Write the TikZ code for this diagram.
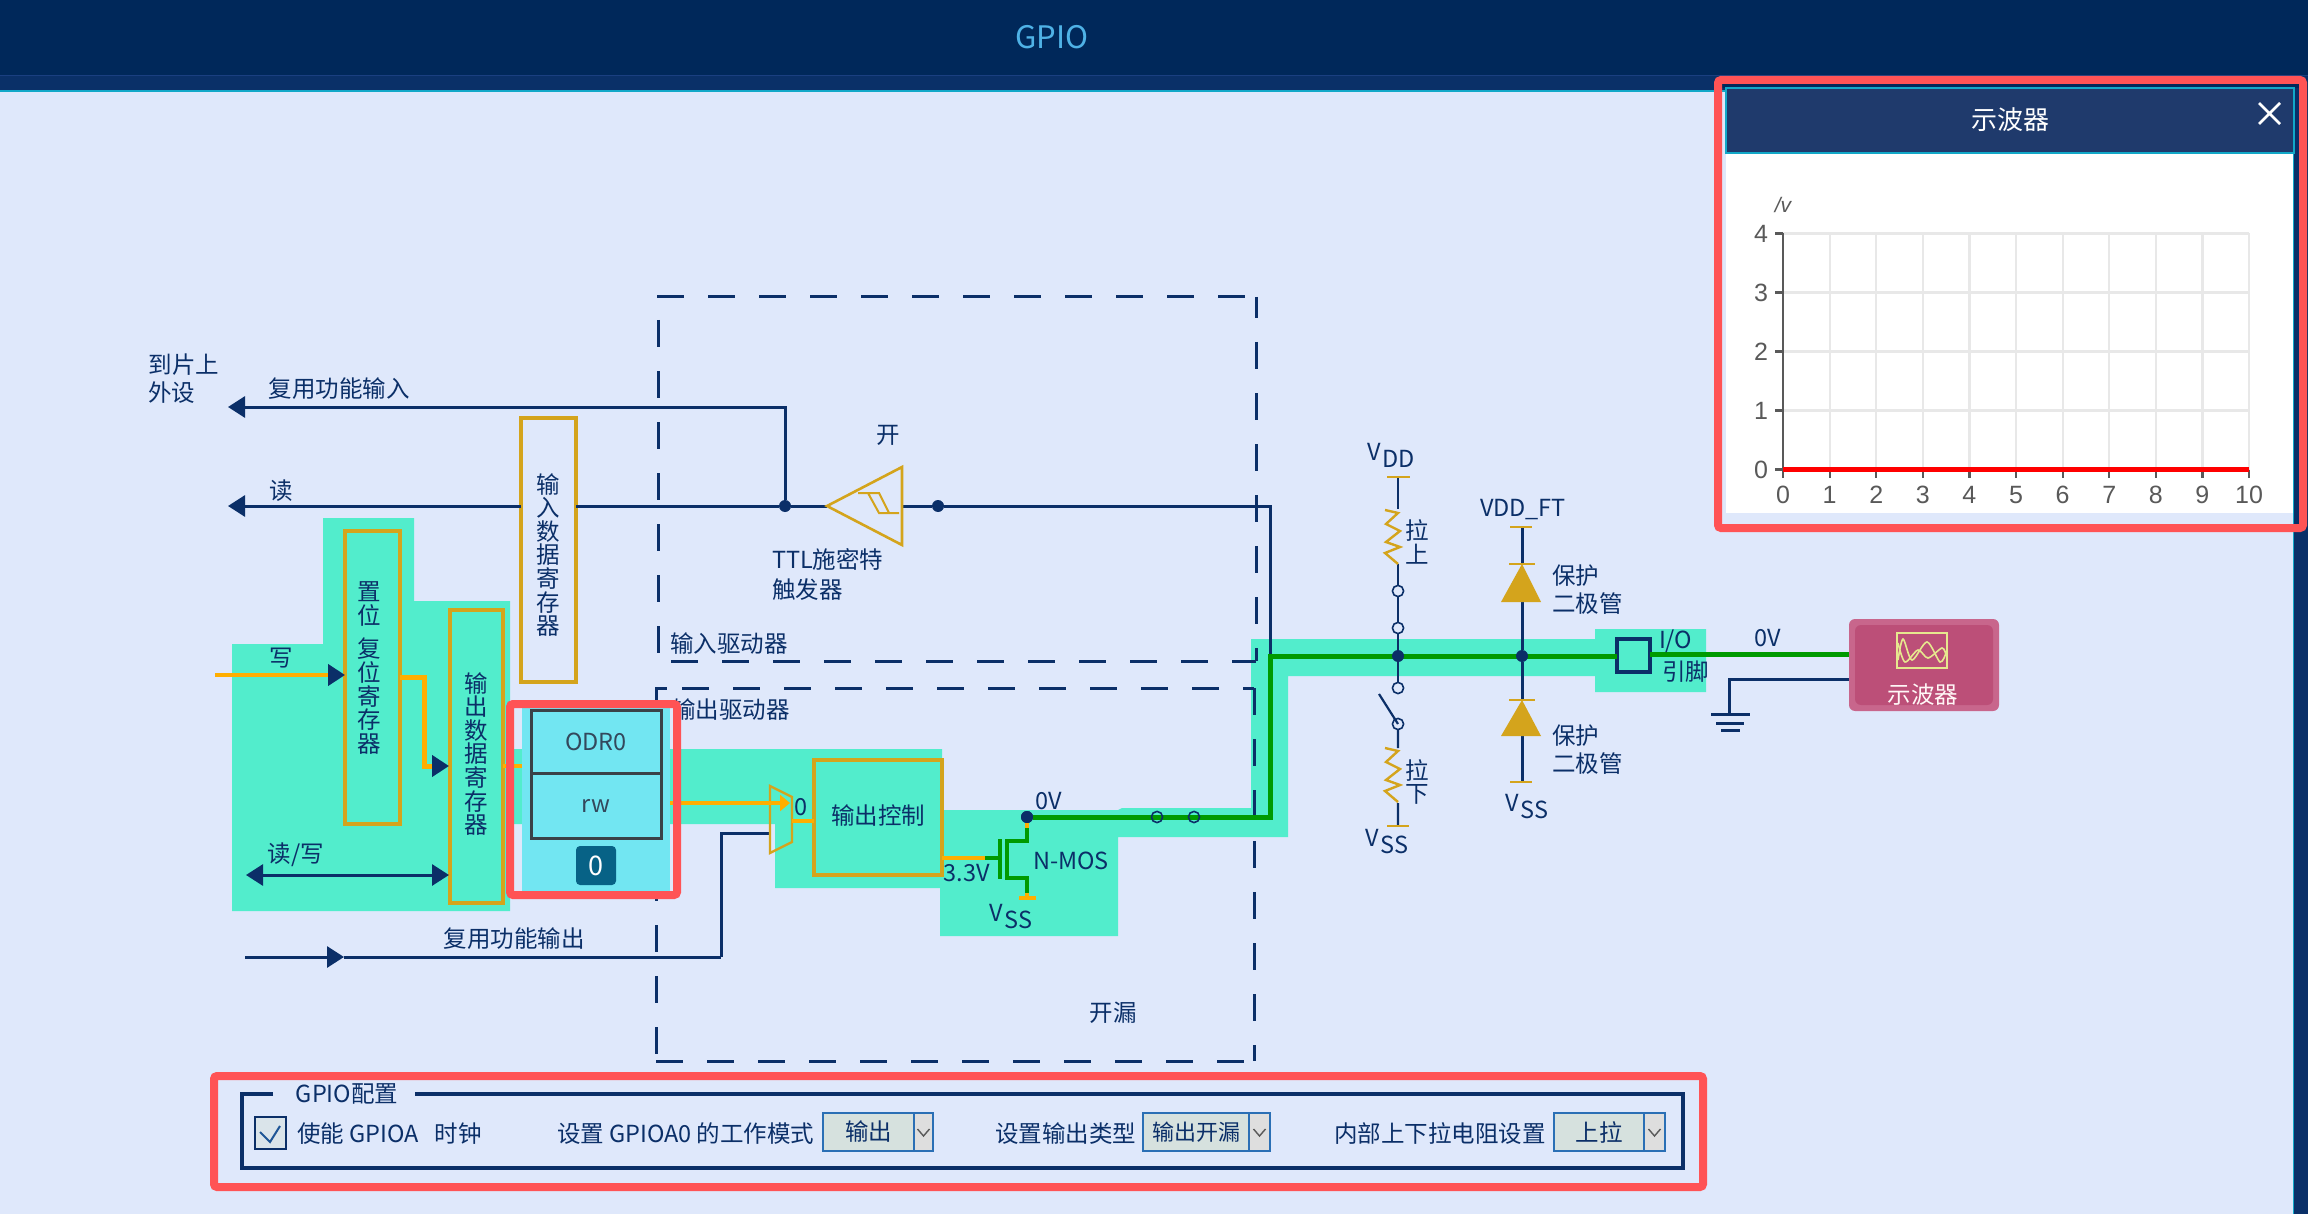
\documentclass[tikz,border=0pt]{standalone}
\usepackage{fontspec}
\setmainfont{Noto Sans CJK SC}
\newfontfamily\chartfont{Liberation Sans}
\usetikzlibrary{arrows.meta}
\definecolor{bgc}{HTML}{DFE8FB}
\definecolor{hdr}{HTML}{00285A}
\definecolor{hdrb}{HTML}{0A3068}
\definecolor{hdrl}{HTML}{1A3F80}
\definecolor{navy}{HTML}{0B2F68}
\definecolor{teal}{HTML}{52EDCC}
\definecolor{gold}{HTML}{D4A41C}
\definecolor{orng}{HTML}{FFAE00}
\definecolor{grn}{HTML}{009A00}
\definecolor{cyn}{HTML}{72E6F2}
\definecolor{redf}{HTML}{FF5355}
\definecolor{winh}{HTML}{1F3A6C}
\definecolor{scope}{HTML}{BC4F78}
\definecolor{scopeb}{HTML}{C8668C}
\definecolor{comb}{HTML}{D6E1DE}
\definecolor{combb}{HTML}{2A6FB5}
\definecolor{titlec}{HTML}{4FB2E6}
\definecolor{edge}{HTML}{12A8C8}
\definecolor{icoc}{HTML}{E6E88E}
\definecolor{odrt}{HTML}{33485C}
\definecolor{odrl}{HTML}{3A4248}
\newcommand{\rnode}[6]{\node[#6,minimum width={(#4-#2)*0.5pt},minimum height={(#5-#3)*0.5pt},inner sep=0pt,outer sep=0pt] (#1) at ({(#2+#4)/2},{(#3+#5)/2}) {};}
\newcommand{\vsub}[1]{V\hspace{0.5pt}\raisebox{-3.5pt}{#1}}
\tikzset{
 txt/.style={font=\fontsize{11.75pt}{11.8pt}\selectfont,text=navy,inner sep=0pt,outer sep=0pt,align=left},
 txtl/.style={txt,anchor=west},
 dtxt/.style={txt,text=odrt},
 wire/.style={draw=navy,line width=1.5pt},
 thin wire/.style={draw=navy,line width=1.1pt},
 owire/.style={draw=orng,line width=2.2pt},
 gwire/.style={draw=grn,line width=2.5pt},
 tipn/.style={-{Triangle[length=8.5pt,width=10.5pt,color=navy]}},
 regbox/.style={draw=gold,line width=1.7pt,fill=teal},
 odrbox/.style={draw=odrl,line width=1.5pt,fill=cyn},
 dot/.style={circle,fill=navy,minimum size=6pt,inner sep=0pt,outer sep=0pt},
 hole/.style={circle,draw=navy,line width=0.8pt,minimum size=5.6pt,inner sep=0pt,outer sep=0pt},
 bar/.style={draw=gold,line width=1.4pt},
 res/.style={draw=gold,line width=1.2pt,line join=miter},
 dash box/.style={draw=navy,line width=1.5pt,dash pattern=on 13.5pt off 12pt},
 combo/.style={draw=combb,line width=0.9pt,fill=comb},
 comboa/.style={draw=combb,line width=0.9pt,fill=black!13},
 frame/.style={draw=redf,line width=4pt,rounded corners=1.5pt},
 tick/.style={draw=black!65,line width=1.1pt},
 gridl/.style={draw=black!9,line width=1.1pt},
 ctxt/.style={font=\chartfont\fontsize{12.5pt}{13pt}\selectfont,text=black!65,inner sep=0pt,outer sep=0pt},
}
\begin{document}
\begin{tikzpicture}[x=0.5pt,y=-0.5pt]
\useasboundingbox (0,0) rectangle (2308,1214);
\fill[bgc] (0,0) rectangle (2308,1214);
% header
\fill[hdr] (0,0) rectangle (2308,75);
\fill[hdrb] (0,75) rectangle (2308,90);
\fill[hdrl] (0,75) rectangle (2308,76.5);
\fill[edge] (0,90) rectangle (2308,92);
\fill[hdrb] (2294,76) rectangle (2308,1214);
\fill[edge] (2292.5,91) rectangle (2294,1214);
\node[txt,font=\fontsize{15.5pt}{16pt}\selectfont,text=titlec] (title) at (1052,37) {GPIO};
% teal backgrounds
\fill[teal] (232,644) -- (323,644) -- (323,518) -- (414,518) -- (414,601) -- (510,601) -- (510,749) -- (522,749) -- (522,824) -- (510,824) -- (510,911) -- (232,911) -- cycle;
\fill[teal] (670,749) -- (942,749) -- (942,811) -- (940,811) -- (940,810) -- (1118,810) -- (1122,808) -- (1251,808) -- (1251,639) -- (1595,639) -- (1595,629) -- (1706,629) -- (1706,692) -- (1595,692) -- (1595,676) -- (1288,676) -- (1288,837) -- (1118,837) -- (1118,936) -- (940,936) -- (940,888) -- (775,888) -- (775,824) -- (670,824) -- cycle;
% dashed driver boxes
\coordinate (ia) at (657,297); \coordinate (ib) at (1256,297);
\coordinate (ic) at (658,320); \coordinate (id) at (658,660);
\coordinate (ie) at (671,661); \coordinate (if) at (1256,661);
\draw[dash box] (ia) -- (ib);
\draw[dash box] (ic) -- (id);
\draw[dash box] (ie) -- (if);
\draw[dash box,dash phase=3pt] (ib) -- (if);
\coordinate (oa) at (656,700); \coordinate (ob) at (656,688); \coordinate (oc) at (1254,688);
\coordinate (od) at (656,1061); \coordinate (oe) at (1254,1061);
\draw[draw=navy,line width=1.5pt] (656,700) -- (ob) -- (667,688);
\draw[dash box] (682,688) -- (oc);
\draw[dash box] (656,721) -- (od);
\draw[dash box] (oc) -- (oe);
\draw[dash box] (od) -- (oe);
\node[txtl] (lbi) at (670,644) {输入驱动器};
\node[txtl] (lbo) at (672,710) {输出驱动器};
\node[txt] (lbk) at (1113,1013) {开漏};
% set/reset and output register
\rnode{setreg}{345}{531}{400}{824}{regbox}
\rnode{outreg}{450}{610}{503}{903}{regbox}
\rnode{inreg}{521}{418}{576}{682}{draw=gold,line width=1.7pt,fill=bgc}
\node[txt,align=center] (tset) at (369,668) {置\\位\\[5pt]复\\位\\寄\\存\\器};
\node[txt,align=center] (tout) at (476,754) {输\\出\\数\\据\\寄\\存\\器};
% input lines
\coordinate (rdtip) at (228,506); \coordinate (aftip) at (228,407);
\coordinate (afc) at (785,407);
\node[dot] (j1) at (785,506) {};
\node[dot] (j2) at (938,506) {};
\coordinate (st1) at (827,506); \coordinate (st2) at (902,467); \coordinate (st3) at (902,545); \coordinate (st4) at (902,506);
\coordinate (rc) at (1270,506); \coordinate (j0) at (1270,656);
\draw[wire,tipn] (j1) -- (afc) -- (aftip);
\draw[wire,tipn] (inreg.west |- rdtip) -- (rdtip);
\draw[wire] (inreg.east |- rdtip) -- (j1) -- (st1);
\draw[wire] (st4) -- (j2) -- (rc) -- (j0);
\draw[draw=gold,line width=1.3pt,fill=bgc,line join=miter] (st1) -- (st2) -- (st3) -- cycle;
\draw[draw=gold,line width=1pt] (858,493) -- (879,493) -- (889,513) -- (879,513) -- (868,493) (879,513) -- (899,513);
\node[txt] (t1) at (184,365) {到片上};
\node[txtl] (t2) at (148,393) {外设};
\node[txt] (t3) at (339,389) {复用功能输入};
\node[txt] (t4) at (281,491) {读};
\node[txt] (t5) at (888,435) {开};
\node[txtl] (t6) at (772,559) {TTL施密特};
\node[txtl] (t7) at (772,590) {触发器};
\node[txt,align=center] (tin) at (548,555) {输\\入\\数\\据\\寄\\存\\器};
% write lines
\coordinate (w0) at (215,675);
\coordinate (sr1) at (400,677); \coordinate (sr2) at (424,677); \coordinate (sr3) at (424,766); \coordinate (sr4) at (449,766);
\draw[owire,tipn] (w0) -- (setreg.west |- w0);
\draw[draw=orng,line width=2.5pt,tipn] (sr1) -- (sr2) -- (sr3) -- (sr4);
\draw[owire] (outreg.east |- sr4) -- (522,766);
\coordinate (rw0) at (246,875); \coordinate (rw1) at (449,875);
\draw[wire,{Triangle[length=8.5pt,width=10.5pt,color=navy]}-{Triangle[length=8.5pt,width=10.5pt,color=navy]}] (rw0) -- (rw1);
\node[txt] (t8) at (281,658) {写};
\node[txt] (t9) at (296,855) {读/写};
% MUX + output control
\coordinate (m1) at (770,786); \coordinate (m2) at (792,797); \coordinate (m3) at (792,842); \coordinate (m4) at (770,853);
\coordinate (af1) at (245,957); \coordinate (af2) at (721,957); \coordinate (af3) at (721,833); \coordinate (af4) at (770,833); \coordinate (af5) at (344,957);
\draw[wire] (af2) -- (af3) -- (af4);
\draw[wire,tipn] (af1) -- (af5);
\draw[wire] (af5) -- (af2);
\rnode{ctrl}{814}{760}{942}{875}{regbox}
\node[txt] (tctrl) at (878,816) {输出控制};
\draw[draw=gold,line width=1.2pt] (m1) -- (m2) -- (m3) -- (m4) -- cycle;
\node[txt] (t0m) at (801,807) {0};
\draw[owire] (792,821) -- (ctrl.west |- 792,821);
\node[txt] (t10) at (514,939) {复用功能输出};
% ODR panel
\rnode{panel}{522}{708}{670}{891}{fill=cyn}
\rnode{odr}{531}{710}{661}{773}{odrbox}
\rnode{rw}{531}{773}{661}{838}{odrbox}
\node[dtxt] (todr) at (odr.center) {ODR0};
\node[dtxt] (trw) at (rw.center) {rw};
\rnode{zbtn}{576}{846}{616}{885}{fill=navy!70!cyan!90!black,rounded corners=2pt}
\node[txt,text=white,font=\fontsize{13.5pt}{14pt}\selectfont] (tz) at (zbtn.center) {0};
\coordinate (oa1) at (670,803); \coordinate (oa2) at (790,803);
\draw[owire,-{Triangle[length=5pt,width=8pt,color=orng]}] (oa1) -- (oa2);
\draw[frame] (510,704) rectangle (677,895);
% MOSFET
\coordinate (gt0) at (942,858); \coordinate (gt1) at (985,858); \coordinate (gt2) at (1000,858);
\draw[owire] (gt0) -- (gt1);
\draw[draw=grn,line width=2pt] (gt1) -- (gt2);
\draw[draw=grn,line width=2.3pt] (1000,839) -- (1000,879);
\node[dot] (dr) at (1027,817) {};
\coordinate (d1) at (1027,828); \coordinate (s1) at (1027,893); \coordinate (s2) at (1027,898);
\draw[owire] (dr) -- (d1);
\draw[draw=grn,line width=2.3pt,line join=miter] (d1) -- (1027,841) -- (1007,841) -- (1007,878) -- (1027,878) -- (s1);
\draw[owire] (s1) -- (s2);
\draw[draw=orng,line width=2pt] (1019,898) -- (1036,898);
\node[txt] (t33) at (967,873) {3.3V};
\node[txt] (tnm) at (1071,861) {N-MOS};
\node[txt] (tvs1) at (1011,917) {\vsub{SS}};
\node[txt] (t0v) at (1049,801) {0V};
% green bus
\coordinate (bus) at (1270,817);
\coordinate (pin0) at (1617,656);
\rnode{pin}{1617}{639}{1650}{672}{draw=navy,line width=1.7pt,fill=teal}
\rnode{scp}{1849}{619}{1999}{711}{fill=scopeb,rounded corners=3pt}
\rnode{scpi}{1855}{625}{1993}{705}{fill=scope,rounded corners=3pt}
\coordinate (pinr) at (1650,654);
\draw[gwire,line join=miter] (dr) -- (bus) -- (j0) -- (pin0);
\draw[gwire] (pinr) -- (scp.west |- pinr);
\node[dot] at (dr) {};
\node[hole] (h1) at (1157,817) {};
\node[hole] (h2) at (1194,817) {};
\node[txtl] (tio) at (1659,641) {I/O};
\node[txtl] (tyj) at (1662,672) {引脚};
\node[txt] (t0v2) at (1768,638) {0V};
% scope button
\node[txt,text=white!85!pink] (tscp) at (1923,695) {示波器};
\rnode{ico}{1897}{633}{1947}{668}{draw=icoc,line width=1.1pt}
\draw[draw=icoc,line width=0.8pt] plot[smooth] coordinates {(1898,660) (1903,639) (1912,660) (1927,642) (1940,662) (1946,653)};
\draw[draw=icoc,line width=0.8pt] plot[smooth] coordinates {(1898,643) (1905,662) (1918,650) (1928,658) (1942,648) (1946,655)};
% ground
\coordinate (g0) at (1729,679); \coordinate (g1) at (1729,714);
\draw[wire] (scp.west |- g0) -- (g0) -- (g1);
\draw[wire] (1711,714) -- (1750,714) (1716,723) -- (1744,723) (1721,730) -- (1740,730);
% pull network
\node[hole] (c1) at (1398,591) {};
\node[hole] (c2) at (1398,628) {};
\node[dot] (j3) at (1398,656) {};
\node[hole] (c3) at (1398,688) {};
\node[hole] (c4) at (1398,724) {};
\coordinate (vddb) at (1398,477); \coordinate (r1t) at (1398,509); \coordinate (r1b) at (1398,564);
\coordinate (r2t) at (1398,748); \coordinate (r2b) at (1398,803); \coordinate (vssb) at (1398,826);
\draw[thin wire] (vddb) -- (r1t) (r1b) -- (c1) -- (c2) -- (j3) -- (c3);
\draw[thin wire] (1379,694) -- (c4.center) (c4) -- (r2t) (r2b) -- (vssb);
\draw[bar] (1387,477) -- (1410,477) (1387,826) -- (1409,826);
\foreach \ya in {510,748}{
 \draw[res] (1385,\ya) -- (1398,\ya+3) -- (1386,\ya+14) -- (1400,\ya+21) -- (1386,\ya+32) -- (1400,\ya+37) -- (1385,\ya+43) -- (1398,\ya+54);
}
\node[txt,align=center] (tpu) at (1417,542) {拉\\上};
\node[txt,align=center] (tpd) at (1417,782) {拉\\下};
\node[txt] (tvdd) at (1391,455) {\vsub{DD}};
\node[txt] (tvs2) at (1387,842) {\vsub{SS}};
% diodes
\node[dot] (j4) at (1522,656) {};
\coordinate (ft) at (1522,527); \coordinate (d1t) at (1522,564); \coordinate (d1b) at (1522,602);
\coordinate (d2t) at (1522,700); \coordinate (d2b) at (1522,736); \coordinate (dvss) at (1522,782);
\draw[wire] (ft) -- (d1t) (d1b) -- (j4) -- (d2t) (d2b) -- (dvss);
\draw[bar] (1510,527) -- (1532,527) (1509,564) -- (1535,564) (1509,700) -- (1535,700) (1510,782) -- (1532,782);
\fill[gold] (d1t) -- (1501,602) -- (1541,602) -- cycle;
\fill[gold] (d2t) -- (1501,736) -- (1541,736) -- cycle;
\node[txt] (tft) at (1523,510) {VDD\_FT};
\node[txtl] (tb1) at (1552,576) {保护};
\node[txtl] (tb2) at (1552,604) {二极管};
\node[txtl] (tb3) at (1552,736) {保护};
\node[txtl] (tb4) at (1552,764) {二极管};
\node[txt] (tvs3) at (1527,807) {\vsub{SS}};
% oscilloscope window
\fill[hdr] (1722,84) rectangle (2300,88);
\fill[white] (1726,153) rectangle (2293,513);
\rnode{wh}{1726}{88}{2294}{153}{fill=winh,draw=edge,line width=0.8pt}
\node[txt,text=white,font=\fontsize{13pt}{13pt}\selectfont] (twt) at (2010,120) {示波器};
\draw[draw=white,line width=1.3pt] (2259,103) -- (2280,124) (2280,103) -- (2259,124);
\foreach \i in {0,...,10}{
 \pgfmathsetmacro\xx{1783+46.6*\i}
 \draw[gridl] (\xx,233.5) -- (\xx,469.5);
 \draw[tick] (\xx,469.5) -- (\xx,478);
 \node[ctxt] (xl\i) at (\xx,495) {\i};
}
\foreach \i in {0,...,4}{
 \pgfmathsetmacro\yy{469.5-59*\i}
 \draw[gridl] (1783,\yy) -- (2249,\yy);
 \draw[tick] (1775,\yy) -- (1783,\yy);
 \node[ctxt] (yl\i) at (1761,\yy) {\i};
}
\coordinate (ax0) at (1783,469.5); \coordinate (ax1) at (1783,233.5); \coordinate (ax2) at (2249,469.5);
\draw[draw=black!65,line width=1.2pt] (ax1) -- (ax0);
\draw[draw=red,line width=2.5pt] (ax0) -- (ax2);
\node[ctxt,font=\chartfont\itshape\fontsize{10.5pt}{11pt}\selectfont] (yu) at (1783,205) {/v};
\draw[frame] (1718,80) rectangle (2303,528);
% config group
\coordinate (g1a) at (273,1094); \coordinate (g1b) at (415,1094);
\draw[wire,line width=1.6pt,line join=miter] (g1a) -- (242,1094) -- (242,1168) -- (1683,1168) -- (1683,1094) -- (g1b);
\node[txt] (tgp) at (347,1094) {GPIO配置};
\rnode{chk}{255}{1117}{286}{1149}{draw=navy,line width=1pt,fill=comb!60!bgc}
\draw[draw=combb!60!navy,line width=1pt] (260,1132) -- (270,1142) -- (280,1126);
\node[txtl] (tc1) at (297,1134) {使能 GPIOA\hspace{8pt}时钟};
\node[txtl] (tc2) at (557,1134) {设置 GPIOA0 的工作模式};
\node[txtl] (tc3) at (995,1134) {设置输出类型};
\node[txtl] (tc4) at (1334,1134) {内部上下拉电阻设置};
\rnode{cb1}{823}{1113}{914}{1151}{combo}
\rnode{ca1}{914}{1113}{933}{1151}{comboa}
\rnode{cb2}{1143}{1113}{1249}{1151}{combo}
\rnode{ca2}{1249}{1113}{1270}{1151}{comboa}
\rnode{cb3}{1554}{1113}{1644}{1151}{combo}
\rnode{ca3}{1644}{1113}{1665}{1151}{comboa}
\node[txt] (tb1x) at (cb1.center) {输出};
\node[txt,font=\fontsize{11pt}{11pt}\selectfont] (tb2x) at (cb2.center) {输出开漏};
\node[txt] (tb3x) at (cb3.center) {上拉};
\foreach \n in {ca1,ca2,ca3}{
 \draw[draw=black!65,line width=0.7pt] (\n.center) +(-6,-3) -- +(0,4) -- +(6,-3);
}
\draw[frame] (214,1076) rectangle (1703,1187);
\end{tikzpicture}
\end{document}
